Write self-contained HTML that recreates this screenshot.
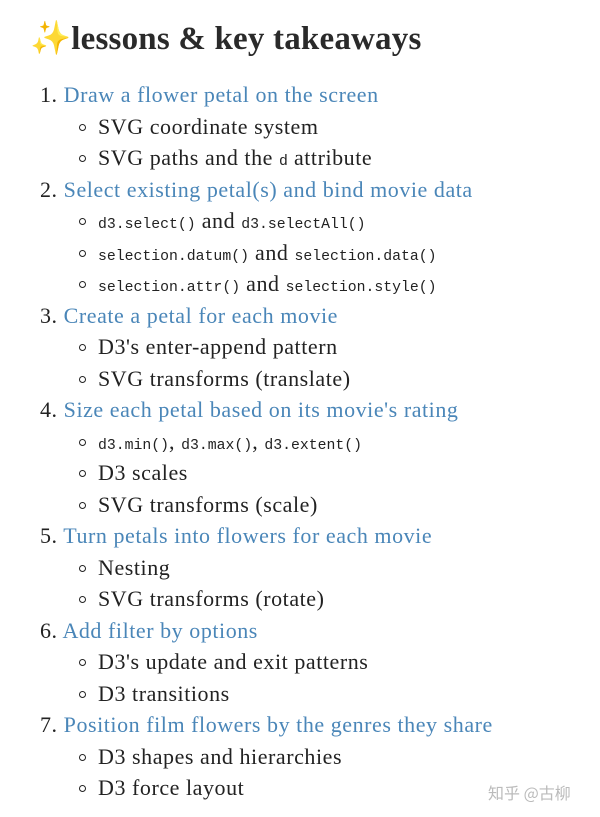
<!DOCTYPE html>
<html><head><meta charset="utf-8"><style>
body{margin:0;width:600px;height:817px;background:#fff;position:relative;overflow:hidden;font-family:"Liberation Serif",serif;color:#222;}
h1{position:absolute;left:30px;top:19px;margin:0;font-size:33px;font-weight:bold;color:#2a2a2a;white-space:nowrap;letter-spacing:0.2px;}
.l{position:absolute;white-space:nowrap;font-size:22px;line-height:31.5px;letter-spacing:0.55px;}
.n{left:40px;}
.n span{color:#4a86b8;}
.s{left:98px;}
.s:before{content:"";position:absolute;left:-19px;top:13px;width:5px;height:5px;border:1.3px solid #222;border-radius:50%;}
code{font-family:"Liberation Mono",monospace;font-size:14.8px;letter-spacing:0;}
.wm{position:absolute;left:488px;top:780px;font-family:"Noto Sans CJK SC",sans-serif;font-size:16px;color:#bbb;}
</style></head><body>
<h1><span style="color:#f2c94c">✨</span>lessons &amp; key takeaways</h1>
<div class="l n" style="top:79px">1. <span>Draw a flower petal on the screen</span></div>
<div class="l s" style="top:110.5px">SVG coordinate system</div>
<div class="l s" style="top:142px">SVG paths and the <code>d</code> attribute</div>
<div class="l n" style="top:173.5px">2. <span>Select existing petal(s) and bind movie data</span></div>
<div class="l s" style="top:205px"><code>d3.select()</code> and <code>d3.selectAll()</code></div>
<div class="l s" style="top:236.5px"><code>selection.datum()</code> and <code>selection.data()</code></div>
<div class="l s" style="top:268px"><code>selection.attr()</code> and <code>selection.style()</code></div>
<div class="l n" style="top:299.5px">3. <span>Create a petal for each movie</span></div>
<div class="l s" style="top:331px">D3's enter-append pattern</div>
<div class="l s" style="top:362.5px">SVG transforms (translate)</div>
<div class="l n" style="top:394px">4. <span>Size each petal based on its movie's rating</span></div>
<div class="l s" style="top:425.5px"><code>d3.min()</code>, <code>d3.max()</code>, <code>d3.extent()</code></div>
<div class="l s" style="top:457px">D3 scales</div>
<div class="l s" style="top:488.5px">SVG transforms (scale)</div>
<div class="l n" style="top:520px">5. <span>Turn petals into flowers for each movie</span></div>
<div class="l s" style="top:551.5px">Nesting</div>
<div class="l s" style="top:583px">SVG transforms (rotate)</div>
<div class="l n" style="top:614.5px">6. <span>Add filter by options</span></div>
<div class="l s" style="top:646px">D3's update and exit patterns</div>
<div class="l s" style="top:677.5px">D3 transitions</div>
<div class="l n" style="top:709px">7. <span>Position film flowers by the genres they share</span></div>
<div class="l s" style="top:740.5px">D3 shapes and hierarchies</div>
<div class="l s" style="top:772px">D3 force layout</div>
<div class="wm">知乎 @古柳</div>
</body></html>
